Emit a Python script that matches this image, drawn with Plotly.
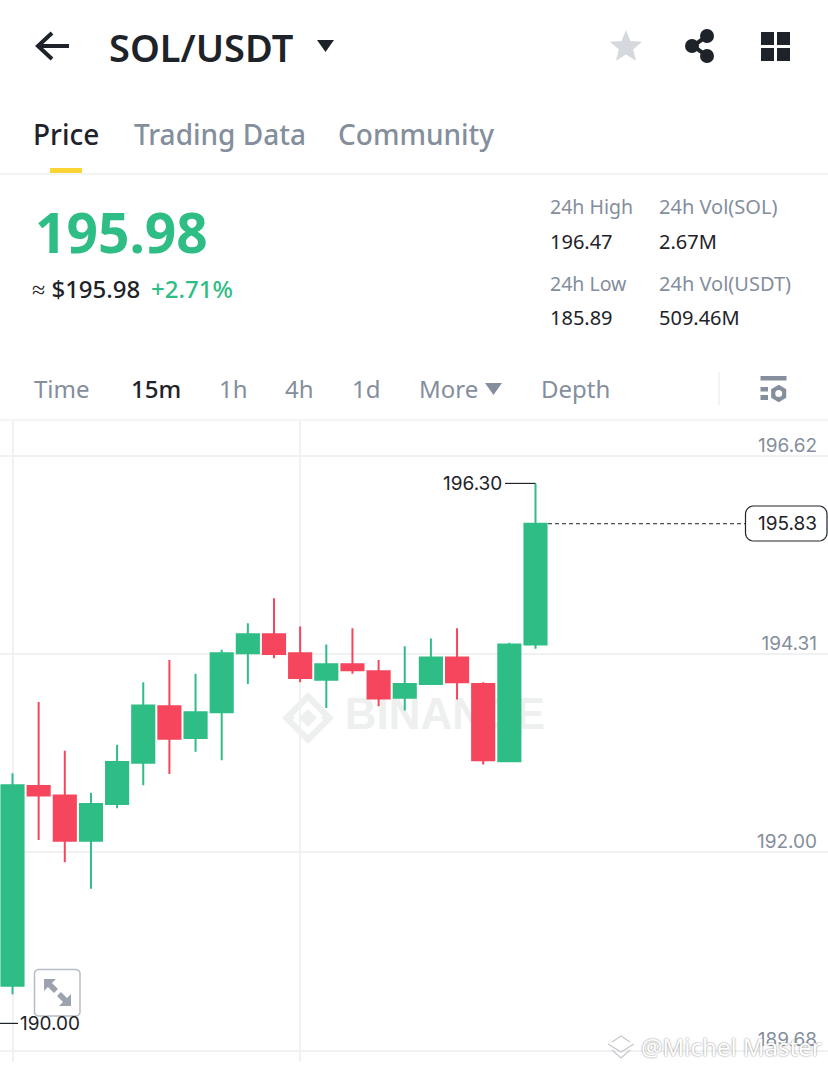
import math
import plotly.graph_objects as go

W, H = 828, 1068

# candles
candle_index = list(range(21))
opens = [190.44, 192.77, 192.66, 192.13, 192.56, 193.04, 193.70, 193.33, 193.63, 194.32, 194.54,
         194.32, 194.01, 194.19, 194.11, 193.80, 193.96, 194.27, 193.96, 193.06, 194.42]
highs = [192.92, 193.75, 193.18, 192.69, 193.25, 193.98, 194.24, 194.08, 194.36, 194.67, 194.96,
         194.63, 194.42, 194.61, 194.24, 194.40, 194.49, 194.61, 193.98, 194.44, 196.30]
lows = [190.34, 192.14, 191.88, 191.57, 192.51, 192.78, 192.91, 193.17, 193.07, 193.96, 194.26,
        193.98, 193.68, 194.08, 193.70, 193.65, 193.95, 193.78, 193.02, 193.05, 194.37]
closes = [192.78, 192.66, 192.13, 192.56, 193.05, 193.71, 193.32, 193.63, 194.32, 194.54, 194.31,
          194.03, 194.19, 194.12, 193.79, 193.96, 194.27, 193.98, 193.07, 194.42, 195.83]

price_ticks = [196.62, 194.31, 192.00, 189.68]
price_tick_text = ["196.62", "194.31", "192.00", "189.68"]
time_grid = [0, 11]
offscreen_low = 190.00

DARK = "#1E2329"
GRAY = "#848E9C"
GREEN = "#2EBD85"
RED = "#F6465D"
GRID = "#F0F1F2"
FONT = "Noto Sans"
NUM_FONT = "Inter"

# screenshot pixels to paper coords
def px(x):
    return x / W

def py(y):
    return 1 - y / H

# screenshot pixels to data coords of the chart
def dx(x):
    return (x - 12.5) / 26.15

def dy(y):
    return 196.62 - (y - 456) / 85.71

annotations = []
shapes = []

def label(x, y, text, size, color=DARK, anchor="left", weight=400, family=FONT, **kw):
    annotations.append(dict(x=px(x), y=py(y), xref="paper", yref="paper", text=text, showarrow=False,
                            xanchor=anchor, yanchor="middle", borderpad=0,
                            font=dict(size=size, color=color, family=family, weight=weight), **kw))

def poly(points, fill=None, line=None, width=0, close=True, layer="above"):
    d = "M " + " L ".join(f"{px(x):.5f} {py(y):.5f}" for x, y in points) + (" Z" if close else "")
    shapes.append(dict(type="path", path=d, xref="paper", yref="paper", layer=layer,
                       fillcolor=fill if fill else "rgba(0,0,0,0)",
                       line=dict(color=line if line else "rgba(0,0,0,0)", width=width)))

def rect(x0, y0, x1, y1, fill):
    shapes.append(dict(type="rect", xref="paper", yref="paper", x0=px(x0), x1=px(x1), y0=py(y0), y1=py(y1),
                       fillcolor=fill, line=dict(width=0)))

def hline(x0, x1, y, color=GRID, width=1.5):
    shapes.append(dict(type="line", xref="paper", yref="paper", x0=px(x0), x1=px(x1), y0=py(y), y1=py(y),
                       line=dict(color=color, width=width)))

def circle(cx, cy, r, fill):
    shapes.append(dict(type="circle", xref="paper", yref="paper", x0=px(cx - r), x1=px(cx + r),
                       y0=py(cy - r), y1=py(cy + r), fillcolor=fill, line=dict(width=0)))

def round_box(x0, y0, x1, y1, r, line, width):
    pts = []
    for cx, cy, a in [(x1 - r, y0 + r, -90), (x1 - r, y1 - r, 0), (x0 + r, y1 - r, 90), (x0 + r, y0 + r, 180)]:
        for k in range(7):
            t = math.radians(a + k * 15)
            pts.append((cx + r * math.cos(t), cy + r * math.sin(t)))
    poly(pts, fill="white", line=line, width=width)

# header
poly([(52, 33), (38, 46), (52, 59)], line=DARK, width=4, close=False)
hline(39, 69, 46, DARK, 4)
label(108, 47, "SOL/USDT", 38, weight=600)
poly([(317, 40), (334, 40), (325.5, 52)], fill=DARK)
poly([(626 + (17 if i % 2 == 0 else 7.5) * math.sin(i * math.pi / 5),
       47 - (17 if i % 2 == 0 else 7.5) * math.cos(i * math.pi / 5)) for i in range(10)], fill="#D5D8DC")
poly([(707, 36), (693, 46), (707, 56)], line=DARK, width=4, close=False)
circle(692, 46, 7, DARK)
circle(707, 36, 7, DARK)
circle(707, 56, 7, DARK)
rect(761, 32, 774, 45, DARK)
rect(777, 32, 790, 45, DARK)
rect(761, 48, 774, 61, DARK)
rect(777, 48, 790, 61, DARK)

# tabs
label(32, 134, "Price", 28, weight=500)
label(133, 134, "Trading Data", 28, GRAY, weight=500)
label(337, 134, "Community", 28, GRAY, weight=500)
rect(50, 168, 82, 173, "#FCD535")
hline(0, W, 174)

# price block
label(34, 231, "195.98", 55, GREEN, weight=700)
label(31, 288, "≈ $195.98", 24, weight=500)
label(150, 288, "+2.71%", 24, GREEN, weight=500)
label(549, 207, "24h High", 19.5, GRAY)
label(549, 241, "196.47", 20)
label(658, 207, "24h Vol(SOL)", 20, GRAY)
label(658, 241, "2.67M", 20)
label(549, 283, "24h Low", 19.5, GRAY)
label(549, 317, "185.89", 20)
label(658, 283, "24h Vol(USDT)", 20, GRAY)
label(658, 317, "509.46M", 20)

# interval row
label(33, 389, "Time", 24, GRAY)
label(130, 389, "15m", 24, weight=500)
label(218, 389, "1h", 24, GRAY)
label(284, 389, "4h", 24, GRAY)
label(351, 389, "1d", 24, GRAY)
label(418, 389, "More", 24, GRAY)
poly([(485, 383), (502, 383), (493.5, 395)], fill=GRAY)
label(540, 389, "Depth", 24, GRAY)
shapes.append(dict(type="line", xref="paper", yref="paper", x0=px(719), x1=px(719), y0=py(372), y1=py(405),
                   line=dict(color=GRID, width=1.5)))
rect(760.5, 376, 786.5, 380.5, GRAY)
rect(760.5, 387, 768, 391.5, GRAY)
rect(760.5, 395, 768, 400, GRAY)
poly([(778.7 + 8.7 * math.sin(i * math.pi / 3), 393.5 + 8.7 * math.cos(i * math.pi / 3)) for i in range(6)], fill=GRAY)
circle(778.7, 393.5, 3.5, "white")
hline(0, W, 420)

# binance logo behind the candles
def diamond(cx, cy, r, fill="#EEF0F0"):
    poly([(cx, cy - r), (cx + r, cy), (cx, cy + r), (cx - r, cy)], fill=fill, layer="below")

diamond(308, 718, 26)
diamond(308, 718, 17, "white")
diamond(308, 718, 9)
diamond(289, 718, 6)
diamond(327, 718, 6)

# last price marker
shapes.append(dict(type="line", xref="x", yref="y", x0=dx(548), x1=dx(745), y0=closes[-1], y1=closes[-1],
                   line=dict(color=DARK, width=1, dash="4px,3px")))
round_box(745.5, 506, 827, 541, 8, DARK, 1.2)
annotations.append(dict(x=px(787), y=closes[-1], xref="paper", yref="y", text=f"{closes[-1]:.2f}", showarrow=False,
                        xanchor="center", yanchor="middle", font=dict(size=19, color=DARK, family=NUM_FONT)))

# high / low callouts
shapes.append(dict(type="line", xref="x", yref="y", x0=dx(505), x1=candle_index[-1], y0=highs[-1], y1=highs[-1],
                   line=dict(color=DARK, width=1.2)))
annotations.append(dict(x=dx(504), y=highs[-1], xref="x", yref="y", text=f"{highs[-1]:.2f}", showarrow=False,
                        xanchor="right", yanchor="middle", font=dict(size=19, color=DARK, family=NUM_FONT)))
shapes.append(dict(type="line", xref="paper", yref="y", x0=0, x1=px(18), y0=offscreen_low, y1=offscreen_low,
                   line=dict(color=DARK, width=1.2)))
annotations.append(dict(x=px(18), y=offscreen_low, xref="paper", yref="y", text=f"{offscreen_low:.2f}", showarrow=False,
                        xanchor="left", yanchor="middle", font=dict(size=19, color=DARK, family=NUM_FONT)))

# expand button
round_box(34.5, 969.5, 80, 1016, 4, "#B7BDC6", 1.5)
poly([(44, 979), (56, 979), (52, 983), (58, 989), (54, 993), (48, 987), (44, 991)], fill="#9CA3AE")
poly([(71, 1006), (59, 1006), (63, 1002), (57, 996), (61, 992), (67, 998), (71, 994)], fill="#9CA3AE")

# bottom right watermark
label(640, 1046, "@Michel Master", 24, "white", weight=400)
annotations[-1]["font"]["shadow"] = "0 0 2px #777"
poly([(612, 1042), (621, 1036), (630, 1042)], line="#C4C7CC", width=1.2, close=False)
poly([(608, 1044), (621, 1052), (634, 1044)], line="#C4C7CC", width=1.2, close=False)
poly([(612, 1050), (621, 1058), (630, 1050)], line="#C4C7CC", width=1.2, close=False)

fig = go.Figure()

# watermark goes on the base subplot so the candles stay on top of it
fig.add_trace(go.Scatter(x=[dx(445)], y=[dy(718)], mode="text", text=["BINANCE"], hoverinfo="skip", showlegend=False,
                         textposition="middle center",
                         textfont=dict(size=44, color="#EEF0F0", family="Liberation Sans", weight=700)))

fig.add_trace(go.Candlestick(x=candle_index, open=opens, high=highs, low=lows, close=closes,
                             xaxis="x2", yaxis="y2", showlegend=False, whiskerwidth=0,
                             increasing=dict(line=dict(color=GREEN, width=2), fillcolor=GREEN),
                             decreasing=dict(line=dict(color=RED, width=2), fillcolor=RED)))

x_range = [dx(0), dx(W)]
y_range = [dy(1062), dy(421)]
y_domain = [py(1062), py(421)]

fig.update_layout(
    width=W, height=H, margin=dict(l=0, r=0, t=0, b=0), autosize=False,
    paper_bgcolor="white", plot_bgcolor="white", showlegend=False,
    boxgap=0.08, boxgroupgap=0.08,
    xaxis=dict(range=x_range, tickvals=time_grid, showticklabels=False, showgrid=True, gridcolor=GRID, gridwidth=1.5,
               zeroline=False, ticks="", fixedrange=True),
    yaxis=dict(range=y_range, domain=y_domain, side="right", tickvals=price_ticks, ticktext=price_tick_text,
               ticklabelposition="inside", ticklabelshift=-11, ticklabelstandoff=8, showgrid=True, gridcolor=GRID,
               gridwidth=1.5, zeroline=False, ticks="", tickfont=dict(size=19, color=GRAY, family=NUM_FONT)),
    xaxis2=dict(range=x_range, overlaying="x", visible=False, rangeslider=dict(visible=False)),
    yaxis2=dict(range=y_range, domain=y_domain, overlaying="y", visible=False),
    annotations=annotations, shapes=shapes,
)

fig.write_html("out.html", post_script="document.body.style.margin='0';", config=dict(displayModeBar=False))
